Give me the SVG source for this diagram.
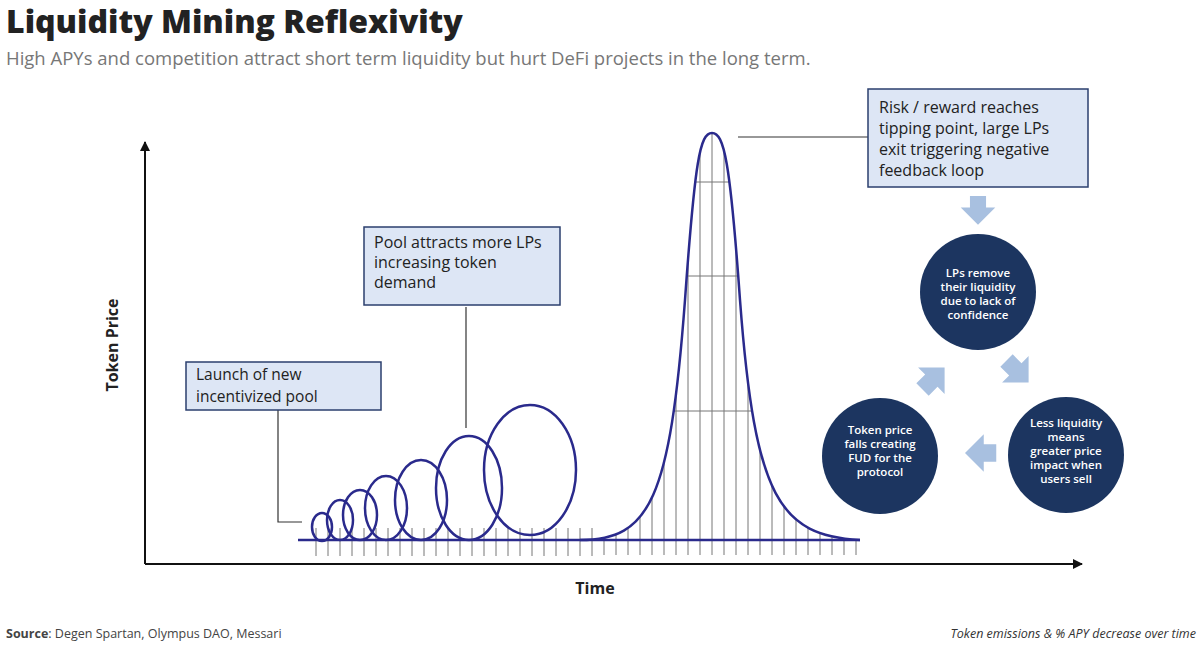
<svg xmlns="http://www.w3.org/2000/svg" width="1204" height="645" viewBox="0 0 1204 645">
<style>
text{font-family:"Open Sans","Noto Sans",sans-serif;fill:#333}
.box{fill:#dde6f5;stroke:#2b3f6e;stroke-width:1.5}
.bt{font-size:16px;fill:#222}
.c{fill:#1c3560}
.ct{font-size:11.5px;fill:#fff;font-weight:600;text-anchor:middle}
.ar{fill:#a8c0e0}
.g{stroke:#777;stroke-width:1}
.crv{fill:none;stroke:#2a2a8c;stroke-width:2.5}
.ln{stroke:#333;stroke-width:1.2}
</style>
<defs>
<marker id="ah" markerWidth="10" markerHeight="10" refX="9" refY="5" orient="auto" markerUnits="userSpaceOnUse"><path d="M0,0 L10,5 L0,10 z" fill="#111"/></marker>
<path id="blk" d="M-7,-13 h14 v10 h8 l-15,15 l-15,-15 h8 z"/>
<clipPath id="cl"><path d="M580,555 L580,540 C650,540 670,500 685,300 C695,160 700,133 712,133 C724,133 730,160 740,300 C755,500 780,535 860,540 L860,555 z"/><rect x="300" y="528" width="300" height="30"/></clipPath>
</defs>
<rect width="1204" height="645" fill="#fff"/>
<text x="6" y="33" style="font-size:32px;font-weight:800;fill:#222">Liquidity Mining Reflexivity</text>
<text x="6" y="65" style="font-size:18.5px;fill:#777">High APYs and competition attract short term liquidity but hurt DeFi projects in the long term.</text>
<g id="axes" stroke="#111" stroke-width="2">
<line x1="145" y1="564" x2="145" y2="142" marker-end="url(#ah)"/>
<line x1="145" y1="564" x2="1082" y2="564" marker-end="url(#ah)"/>
</g>
<text transform="translate(118,345) rotate(-90)" text-anchor="middle" style="font-size:16px;font-weight:700;fill:#222">Token Price</text>
<text x="595" y="594" text-anchor="middle" style="font-size:16px;font-weight:700;fill:#222">Time</text>
<g id="grid" clip-path="url(#cl)" class="g">
<path d="M316,480V556M328,480V556M340,480V556M352,480V556M364,480V556M376,480V556M388,480V556M400,480V556M412,480V556M424,480V556M436,480V556M448,480V556M460,480V556M472,480V556M484,480V556M496,480V556M508,480V556M520,480V556M532,480V556M544,480V556M556,480V556M568,480V556M580,480V556M592,130V556M604,130V556M616,130V556M628,130V556M640,130V556M652,130V556M664,130V556M676,130V556M688,130V556M700,130V556M712,130V556M724,130V556M736,130V556M748,130V556M760,130V556M772,130V556M784,130V556M796,130V556M808,130V556M820,130V556M832,130V556M844,130V556M856,130V556"/>
<path d="M680,182H745M670,276H760M660,411H780"/>
</g>
<g id="curve" class="crv">
<path d="M298,540 L860,540"/>
<ellipse cx="322" cy="527" rx="10" ry="14"/>
<ellipse cx="340" cy="520" rx="13" ry="20"/>
<ellipse cx="360" cy="515" rx="17" ry="25"/>
<ellipse cx="386" cy="508" rx="21" ry="32"/>
<ellipse cx="421" cy="500" rx="26" ry="40"/>
<ellipse cx="469" cy="488" rx="33" ry="52"/>
<ellipse cx="530" cy="470" rx="46" ry="65"/>
<path d="M580,540 C650,540 670,500 685,300 C695,160 700,133 712,133 C724,133 730,160 740,300 C755,500 780,535 860,540"/>
</g>
<g id="connectors" class="ln">
<path d="M278,410 V522 H302" fill="none"/>
<line x1="466" y1="307" x2="466" y2="428"/>
<line x1="738" y1="137" x2="868" y2="137"/>
</g>
<g id="box1"><rect class="box" x="186" y="362" width="195" height="48"/>
<text class="bt" x="196" y="380" style="font-size:15.5px">Launch of new</text><text class="bt" x="196" y="402" style="font-size:15.5px">incentivized pool</text></g>
<g id="box2"><rect class="box" x="364" y="227" width="196" height="78"/>
<text class="bt" x="374" y="248">Pool attracts more LPs</text><text class="bt" x="374" y="268">increasing token</text><text class="bt" x="374" y="288">demand</text></g>
<g id="box3"><rect class="box" x="868" y="89" width="220" height="98"/>
<text class="bt" x="879" y="113">Risk / reward reaches</text><text class="bt" x="879" y="134">tipping point, large LPs</text><text class="bt" x="879" y="155">exit triggering negative</text><text class="bt" x="879" y="176">feedback loop</text></g>
<g id="arrows">
<use href="#blk" class="ar" transform="translate(978,211) scale(1.15)"/>
<use href="#blk" class="ar" transform="translate(1018,372) rotate(-45) scale(1.25)"/>
<use href="#blk" class="ar" transform="translate(980,453) rotate(90) scale(1.25)"/>
<use href="#blk" class="ar" transform="translate(934,378) rotate(-135) scale(1.25)"/>
</g>
<g id="n1"><circle class="c" cx="978" cy="292" r="58"/>
<text class="ct" x="978" y="277">LPs remove</text><text class="ct" x="978" y="291">their liquidity</text><text class="ct" x="978" y="305">due to lack of</text><text class="ct" x="978" y="319">confidence</text></g>
<g id="n2"><circle class="c" cx="1066" cy="455" r="58"/>
<text class="ct" x="1066" y="427">Less liquidity</text><text class="ct" x="1066" y="441">means</text><text class="ct" x="1066" y="455">greater price</text><text class="ct" x="1066" y="469">impact when</text><text class="ct" x="1066" y="483">users sell</text></g>
<g id="n3"><circle class="c" cx="880" cy="456" r="58"/>
<text class="ct" x="880" y="434">Token price</text><text class="ct" x="880" y="448">falls creating</text><text class="ct" x="880" y="462">FUD for the</text><text class="ct" x="880" y="476">protocol</text></g>
<text x="6" y="638" style="font-size:12.5px;fill:#444"><tspan font-weight="700">Source</tspan>: Degen Spartan, Olympus DAO, Messari</text>
<text x="1196" y="638" text-anchor="end" style="font-size:12.5px;font-style:italic;fill:#333">Token emissions &amp; % APY decrease over time</text>
</svg>
